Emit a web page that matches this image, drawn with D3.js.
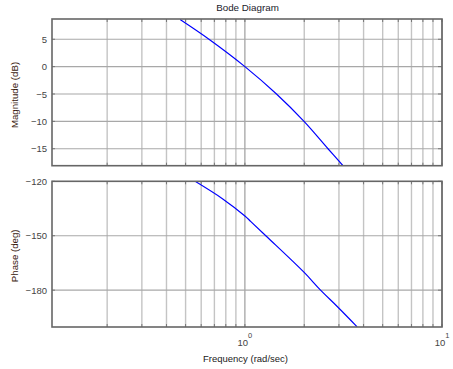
<!DOCTYPE html>
<html><head><meta charset="utf-8">
<script src="https://cdn.jsdelivr.net/npm/d3@7"></script>
<style>body{margin:0;background:#fff;} text{font-family:"Liberation Sans",Arial,sans-serif;}</style>
</head><body>
<svg id="c" width="453" height="369"></svg>
<script>
const title = "Bode Diagram";
const magFreq = [0.469, 0.657, 1.0, 1.446, 1.995, 2.64, 3.146];
const magDb = [8.6, 5, 0, -5, -10, -15, -18.1];
const phaseFreq = [0.559, 0.772, 1.0, 1.072, 1.276, 1.993, 2.42, 2.94, 3.71];
const phaseDeg = [-120, -129.7, -139.1, -142.2, -150, -170.1, -180, -189, -200.2];
const magTicks = [5, 0, -5, -10, -15];
const phaseTicks = [-120, -150, -180];
const decadeTicks = [1, 10];
const minorTicks = [0.2,0.3,0.4,0.5,0.6,0.7,0.8,0.9,2,3,4,5,6,7,8,9];
const xDomain = [0.105, 10];
const magDomain = [-18.1, 8.7];
const phaseDomain = [-200.3, -120];

const svg = d3.select("#c");
const L = 52, R = 442;
const x = d3.scaleLog().domain(xDomain).range([L, R]);
const panels = [
  {top: 19, bot: 165.7, dom: magDomain, ticks: magTicks, fx: magFreq, fy: magDb, label: "Magnitude (dB)", ly: 95},
  {top: 181.3, bot: 327, dom: phaseDomain, ticks: phaseTicks, fx: phaseFreq, fy: phaseDeg, label: "Phase (deg)", ly: 255.8}
];

panels.forEach((p, i) => {
  const y = d3.scaleLinear().domain(p.dom).range([p.bot, p.top]);
  const g = svg.append("g");
  const cid = "clip" + i;
  svg.append("clipPath").attr("id", cid).append("rect")
    .attr("x", L).attr("y", p.top).attr("width", R - L).attr("height", p.bot - p.top);
  g.selectAll(".vm").data(minorTicks).join("line")
    .attr("x1", d => x(d)).attr("x2", d => x(d)).attr("y1", p.top).attr("y2", p.bot)
    .attr("stroke", "#c4c4c4").attr("stroke-width", 1.4);
  g.selectAll(".vd").data(decadeTicks).join("line")
    .attr("x1", d => x(d)).attr("x2", d => x(d)).attr("y1", p.top).attr("y2", p.bot)
    .attr("stroke", "#8a8a8a").attr("stroke-width", 1);
  g.selectAll(".hg").data(p.ticks.filter(t => y(t) > p.top + 1)).join("line")
    .attr("x1", L).attr("x2", R).attr("y1", d => y(d)).attr("y2", d => y(d))
    .attr("stroke", "#a8a8a8").attr("stroke-width", 1.2);
  const allX = minorTicks.concat(decadeTicks);
  g.selectAll(".tt").data(allX).join("line")
    .attr("x1", d => x(d)).attr("x2", d => x(d)).attr("y1", p.top).attr("y2", p.top + 3)
    .attr("stroke", "#777").attr("stroke-width", 1);
  g.selectAll(".tb").data(allX).join("line")
    .attr("x1", d => x(d)).attr("x2", d => x(d)).attr("y1", p.bot - 3).attr("y2", p.bot)
    .attr("stroke", "#777").attr("stroke-width", 1);
  g.selectAll(".tr").data(p.ticks).join("line")
    .attr("x1", R - 4).attr("x2", R).attr("y1", d => y(d)).attr("y2", d => y(d))
    .attr("stroke", "#777").attr("stroke-width", 1);
  g.selectAll(".tl").data(p.ticks).join("line")
    .attr("x1", L).attr("x2", L + 3).attr("y1", d => y(d)).attr("y2", d => y(d))
    .attr("stroke", "#777").attr("stroke-width", 1);
  const pts = p.fx.map((f, k) => [f, p.fy[k]]);
  svg.append("path").datum(pts)
    .attr("clip-path", `url(#${cid})`)
    .attr("d", d3.line().x(d => x(d[0])).y(d => y(d[1])).curve(d3.curveCatmullRom.alpha(0.5)))
    .attr("fill", "none").attr("stroke", "#0000ff").attr("stroke-width", 1.2);
  svg.append("rect").attr("x", L).attr("y", p.top).attr("width", R - L).attr("height", p.bot - p.top)
    .attr("fill", "none").attr("stroke", "#666").attr("stroke-width", 1.6);
  const ax = svg.append("g").attr("transform", `translate(${L},0)`)
    .call(d3.axisLeft(y).tickValues(p.ticks).tickSize(0).tickPadding(5).tickFormat(d3.format("d")));
  ax.select(".domain").remove();
  ax.selectAll("text").attr("font-size", 9.5).attr("fill", "#444").attr("font-family", "Liberation Sans, Arial, sans-serif");
  svg.append("text")
    .attr("transform", `translate(18,${p.ly}) rotate(-90)`)
    .attr("text-anchor", "middle").attr("font-size", 9.7).attr("fill", "#3a1a10")
    .text(p.label);
});

const xl = svg.selectAll(".xl").data(decadeTicks).join("text")
  .attr("x", d => x(d)).attr("y", 345.5).attr("text-anchor", "middle")
  .attr("font-size", 9.5).attr("fill", "#444");
xl.append("tspan").text("10");
xl.append("tspan").attr("dy", -8).attr("font-size", 7.5).text(d => Math.round(Math.log10(d)));

svg.append("text").attr("x", (L + R) / 2 + 0.5).attr("y", 11).attr("text-anchor", "middle")
  .attr("font-size", 9.8).attr("fill", "#1a1a2a").text(title);
svg.append("text").attr("x", 245.5).attr("y", 362).attr("text-anchor", "middle")
  .attr("font-size", 9.5).attr("fill", "#1a1a1a").text("Frequency (rad/sec)");
</script>
</body></html>
